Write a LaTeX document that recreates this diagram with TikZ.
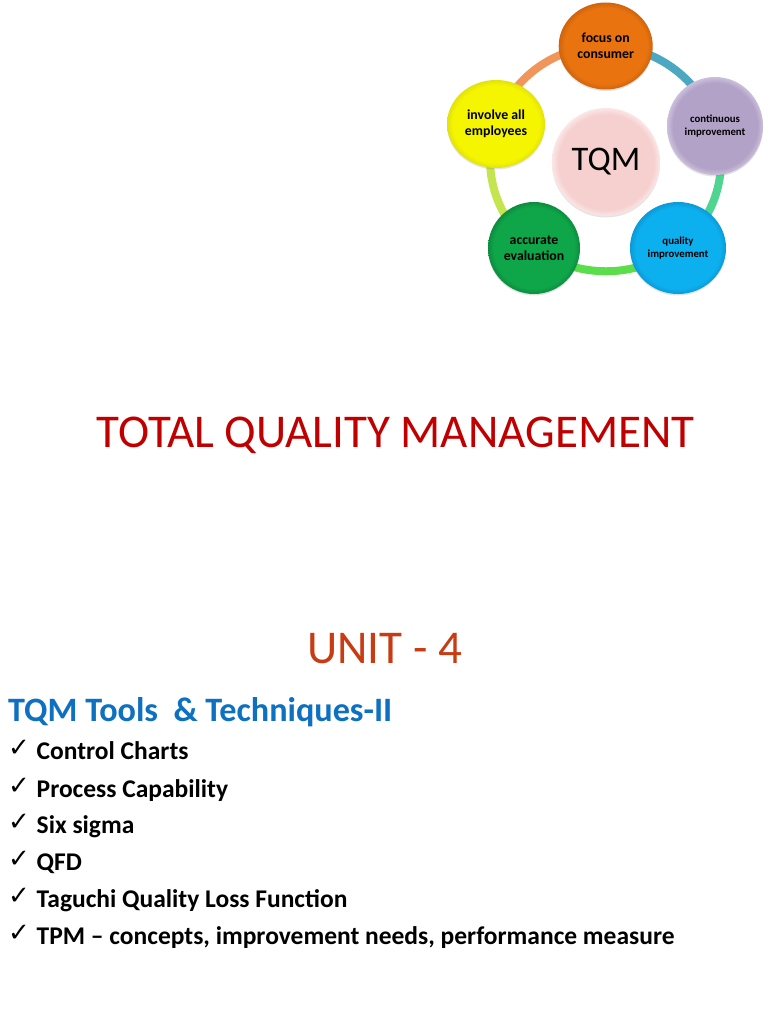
\documentclass[tikz,border=0pt]{standalone}
\usepackage{fontspec}
\setmainfont{Carlito}
\newfontfamily\symfont{DejaVu Sans}
\usetikzlibrary{shapes.geometric,backgrounds,shadows}
\definecolor{cfocus}{HTML}{E8730F}\definecolor{efocus}{HTML}{CF640C}
\definecolor{ccont}{HTML}{B3A2C7}\definecolor{econt}{HTML}{CBC0DA}
\definecolor{cqual}{HTML}{0DB0EE}\definecolor{equal}{HTML}{0A9AD8}
\definecolor{cacc}{HTML}{0FA64A}\definecolor{eacc}{HTML}{0C8C3E}
\definecolor{cinv}{HTML}{F5F500}\definecolor{einv}{HTML}{E2E20C}
\definecolor{ctqm}{HTML}{F6CFCF}\definecolor{etqm}{HTML}{FBE6E6}
\definecolor{segteal}{RGB}{75,168,192}
\definecolor{segmint}{RGB}{80,212,145}
\definecolor{seggreen}{RGB}{92,222,76}
\definecolor{segyel}{RGB}{196,228,80}
\definecolor{segor}{RGB}{240,150,90}
\definecolor{titlered}{RGB}{192,0,0}
\definecolor{unitred}{RGB}{200,60,20}
\definecolor{headblue}{RGB}{14,112,192}
\newcommand\mkbev[3]{\pgfdeclareradialshading{#1}{\pgfpointorigin}{color(0bp)=(#2);color(22bp)=(#2);color(25bp)=(#3);color(50bp)=(#3)}}
\mkbev{bfocus}{cfocus}{efocus}
\mkbev{bcont}{ccont}{econt}
\mkbev{bqual}{cqual}{equal}
\mkbev{bacc}{cacc}{eacc}
\mkbev{binv}{cinv}{einv}
\mkbev{btqm}{ctqm}{etqm}
\tikzset{
  ball/.style={ellipse,inner sep=0pt,align=center,text=black,font=\fontsize{13.8}{15.7}\selectfont\bfseries,
     drop shadow={shadow xshift=0pt,shadow yshift=-1.5pt,opacity=.22}},
  smalltxt/.style={font=\fontsize{10.8}{12.5}\selectfont\bfseries},
  ringseg/.style={line width=8pt,looseness=.94},
  title/.style={anchor=base,inner sep=0pt,text=#1},
  listitem/.style={anchor=base west,inner sep=0pt,font=\fontsize{25.5}{30}\selectfont\bfseries,text=black},
  tick/.style={anchor=base west,inner sep=0pt,font=\fontsize{26}{30}\selectfont\symfont,text=black}
}
\begin{document}
\begin{tikzpicture}[x=1pt,y=-1pt]
\useasboundingbox (0,0) rectangle (768,1024);
\node[ball,shading=bfocus,minimum width=94pt,minimum height=87pt] (focus) at (605.7,46) {focus on\\consumer};
\node[ball,smalltxt,shading=bcont,minimum width=96pt,minimum height=98pt] (cont) at (715,126) {continuous\\improvement};
\node[ball,smalltxt,shading=bqual,minimum width=96pt,minimum height=92pt] (qual) at (678,248) {quality\\improvement};
\node[ball,shading=bacc,minimum width=92pt,minimum height=92pt] (acc) at (534,248) {accurate\\evaluation};
\node[ball,shading=binv,minimum width=98pt,minimum height=88pt] (inv) at (496,124) {involve all\\employees};
\node[ball,shading=btqm,minimum width=108pt,minimum height=108pt,font=\fontsize{34.5}{40}\selectfont] (tqm) at (606,162) {TQM};
\begin{pgfonlayer}{background}
\fill[white] (0,0) rectangle (768,1024);
\draw[ringseg,draw=segteal] (focus.center) to[bend left=36] (cont.center);
\draw[ringseg,draw=segmint] (cont.center) to[bend left=36] (qual.center);
\draw[ringseg,draw=seggreen] (qual.center) to[bend left=36] (acc.center);
\draw[ringseg,draw=segyel] (acc.center) to[bend left=36] (inv.center);
\draw[ringseg,draw=segor] (inv.center) to[bend left=36] (focus.center);
\end{pgfonlayer}
\node[title=titlered,font=\fontsize{47}{52}\selectfont] (t1) at (395.5,447) {TOTAL QUALITY MANAGEMENT};
\node[title=unitred,font=\fontsize{47}{52}\selectfont] (t2) at (384.5,663) {UNIT - 4};
\node[anchor=base west,inner sep=0pt,text=headblue,font=\fontsize{34.2}{40}\selectfont\bfseries] (h) at (8,721) {TQM Tools\ \ \& Techniques-II};
\foreach \n/\y/\s in {a/759/{Control Charts},b/797/{Process Capability},c/833/{Six sigma},d/870/{QFD},e/907/{Taguchi Quality Loss Function},f/944/{TPM -- concepts, improvement needs, performance measure}}{
  \node[tick] (k\n) at (8,\y-3) {✓};
  \node[listitem] (i\n) at (36.5,\y) {\s};
}
\end{tikzpicture}
\end{document}
